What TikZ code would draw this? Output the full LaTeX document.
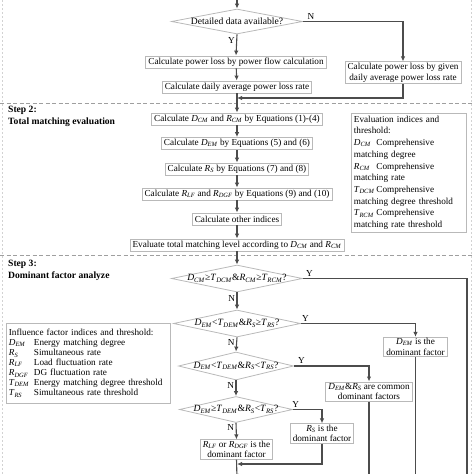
\documentclass[tikz,border=0pt]{standalone}
\usepackage{fontspec}
\setmainfont{Liberation Serif}
\usetikzlibrary{shapes.geometric,arrows.meta}

\newcommand{\sym}[2]{\textit{#1}\textsubscript{\textit{#2}}}
\newcommand{\dtxt}[1]{\makebox[0pt]{#1}}

\tikzset{
    box/.style={draw=gray!55, line width=0.8pt, inner xsep=2.5pt, inner ysep=1.2pt, minimum height=12pt, align=center, font=\fontsize{9.2}{10.6}\selectfont},
    dec/.style={diamond, draw=gray!55, line width=0.8pt, inner sep=0pt, font=\fontsize{9.6}{10}\selectfont},
    flow/.style={draw=black!70, line width=1.1pt, -{Latex[length=5pt,width=4.5pt]}},
    link/.style={draw=black!70, line width=1.1pt},
    yn/.style={font=\fontsize{9.2}{10}\selectfont, inner sep=1.5pt},
    sep/.style={draw=gray!75, line width=0.8pt, dash pattern=on 4pt off 2.5pt},
    border/.style={draw=gray!35, line width=0.8pt, dash pattern=on 2pt off 2pt},
    steplab/.style={font=\fontsize{9.6}{11.5}\selectfont\bfseries, align=left, inner sep=0pt},
}

\begin{document}
\begin{tikzpicture}[x=1pt, y=-1pt]
\useasboundingbox (0,0) rectangle (474,474);

% frame and step separators
\draw[border] (2,0) -- (2,474);
\draw[border] (471,0) -- (471,474);
\draw[sep] (0,103) -- (474,103);
\draw[sep] (0,255) -- (474,255);

% step 1
\coordinate (top) at (237,-12);
\node[dec, minimum width=131pt, minimum height=25pt] (dd) at (237,21.5) {\dtxt{Detailed data available?}};
\node[box] (pf) at (236,62) {Calculate power loss by power flow calculation};
\node[box] (ar) at (237,87) {Calculate daily average power loss rate};
\node[box] (gl) at (403,72.5) {Calculate power loss by given\\daily average power loss rate};
\coordinate (j1) at (237,98);

\draw[flow] (top) -- (dd.north);
\draw[flow] (dd.south) -- node[yn, left, pos=0.3] {Y} (pf.north);
\draw[flow] (dd.east) -| node[yn, above, pos=0.04] {N} (gl.north);
\draw[flow] (pf) -- (ar);
\draw[flow] (gl.south) |- (j1);

% step 2
\node[steplab, anchor=north west] (s2) at (8,106) {Step 2:\\Total matching evaluation};

\foreach \n/\y/\txt in {c1/119/{Calculate \sym{D}{CM} and \sym{R}{CM} by Equations (1)-(4)},
    c2/143.5/{Calculate \sym{D}{EM} by Equations (5) and (6)},
    c3/169/{Calculate \sym{R}{S} by Equations (7) and (8)},
    c4/194/{Calculate \sym{R}{LF} and \sym{R}{DGF} by Equations (9) and (10)},
    c5/219/{Calculate other indices},
    c6/245/{Evaluate total matching level according to \sym{D}{CM} and \sym{R}{CM}}}{
    \node[box] (\n) at (237,\y) {\txt};
}
\draw[flow] (ar.south) -- (c1.north);
\foreach \a/\b in {c1/c2, c2/c3, c3/c4, c4/c5, c5/c6}{
    \draw[flow] (\a) -- (\b);
}

\node[box, anchor=north west, text width=110pt, align=left, inner xsep=2.5pt, inner ysep=2.5pt,
      font=\fontsize{9.2}{11.7}\selectfont] (evi) at (351,113) {%
    Evaluation indices and\\threshold:\\
    \makebox[22.5pt][l]{\sym{D}{CM}}Comprehensive\\matching degree\\
    \makebox[22.5pt][l]{\sym{R}{CM}}Comprehensive\\matching rate\\
    \makebox[22.5pt][l]{\sym{T}{DCM}}Comprehensive\\matching degree threshold\\
    \makebox[22.5pt][l]{\sym{T}{RCM}}Comprehensive\\matching rate threshold};

% step 3
\node[steplab, anchor=north west] (s3) at (8,260) {Step 3:\\Dominant factor analyze};

\node[dec, minimum width=131pt, minimum height=27pt] (d1) at (237,278.5) {\dtxt{\sym{D}{CM}≥\sym{T}{DCM}\&\sym{R}{CM}≥\sym{T}{RCM}?}};
\node[dec, minimum width=127pt, minimum height=27pt] (d2) at (237,323.5) {\dtxt{\sym{D}{EM}<\sym{T}{DEM}\&\sym{R}{S}≥\sym{T}{RS}?}};
\node[dec, minimum width=115pt, minimum height=28pt] (d3) at (236,366) {\dtxt{\sym{D}{EM}<\sym{T}{DEM}\&\sym{R}{S}<\sym{T}{RS}?}};
\node[dec, minimum width=113pt, minimum height=26pt] (d4) at (236,409.5) {\dtxt{\sym{D}{EM}≥\sym{T}{DEM}\&\sym{R}{S}<\sym{T}{RS}?}};

\node[box] (f1) at (415.5,347) {\sym{D}{EM} is the\\dominant factor};
\node[box] (f2) at (369,391.5) {\sym{D}{EM}\&\sym{R}{S} are common\\dominant factors};
\node[box] (f3) at (322,433.5) {\sym{R}{S} is the\\dominant factor};
\node[box] (f4) at (236.5,449.5) {\sym{R}{LF} or \sym{R}{DGF} is the\\dominant factor};

\node[box, anchor=north west, text width=159pt, align=left, inner xsep=2.5pt, inner ysep=6pt,
      font=\fontsize{9.2}{10}\selectfont] (ifi) at (6,323) {%
    Influence factor indices and threshold:\\
    \makebox[25pt][l]{\sym{D}{EM}}Energy matching degree\\
    \makebox[25pt][l]{\sym{R}{S}}Simultaneous rate\\
    \makebox[25pt][l]{\sym{R}{LF}}Load fluctuation rate\\
    \makebox[25pt][l]{\sym{R}{DGF}}DG fluctuation rate\\
    \makebox[25pt][l]{\sym{T}{DEM}}Energy matching degree threshold\\
    \makebox[25pt][l]{\sym{T}{RS}}Simultaneous rate threshold};

\coordinate (o1) at (467,480);
\coordinate (o2) at (415.5,480);
\coordinate (o3) at (369,480);
\coordinate (o4) at (237,479);
\coordinate (j2) at (237,464);

\draw[flow] (c6.south) -- (d1.north);
\draw[link] (d1.east) -| node[yn, above, pos=0.02] {Y} (o1);
\draw[flow] (d1.south) -- node[yn, left, pos=0.35] {N} (d2.north);
\draw[flow] (d2.east) -| node[yn, above, pos=0.02] {Y} (f1.north);
\draw[flow] (d2.south) -- node[yn, left, pos=0.35] {N} (d3.north);
\draw[flow] (d3.east) -| node[yn, above, pos=0.05] {Y} (f2.north);
\draw[flow] (d3.south) -- node[yn, left, pos=0.35] {N} (d4.north);
\draw[flow] (d4.east) -| node[yn, above, pos=0.05] {Y} (f3.north);
\draw[flow] (d4.south) -- node[yn, left, pos=0.3] {N} (f4.north);
\draw[flow] (f3.south) |- (j2);
\draw[flow] (f4.south) -- (o4);
\draw[link] (f1.south) -- (o2);
\draw[link] (f2.south) -- (o3);

\end{tikzpicture}
\end{document}
